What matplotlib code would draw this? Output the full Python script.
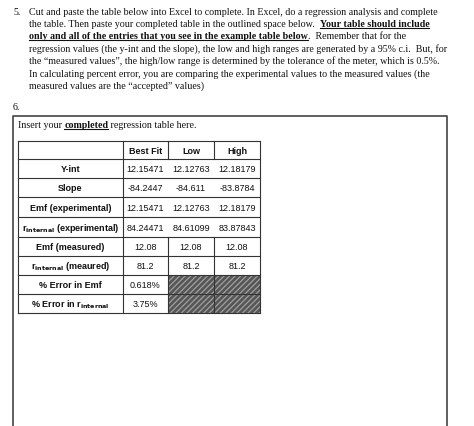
import matplotlib
matplotlib.use("Agg")
import matplotlib.pyplot as plt
from matplotlib.patches import Rectangle

# paragraph text, as (text, bold, underline) segments per line
para_lines = [
    [("Cut and paste the table below into Excel to complete. In Excel, do a regression analysis and complete", 0, 0)],
    [("the table. Then paste your completed table in the outlined space below.  ", 0, 0),
     ("Your table should include", 1, 1)],
    [("only and all of the entries that you see in the example table below", 1, 1),
     (".  Remember that for the", 0, 0)],
    [("regression values (the y-int and the slope), the low and high ranges are generated by a 95% c.i.  But, for", 0, 0)],
    [("the \u201cmeasured values\u201d, the high/low range is determined by the tolerance of the meter, which is 0.5%.", 0, 0)],
    [("In calculating percent error, you are comparing the experimental values to the measured values (the", 0, 0)],
    [("measured values are the \u201caccepted\u201d values)", 0, 0)],
]

header = ["", "Best Fit", "Low", "High"]
row_labels = ["Y-int", "Slope", "Emf (experimental)", r"r$_{\mathbf{internal}}$ (experimental)",
              "Emf (measured)", r"r$_{\mathbf{internal}}$ (meaured)", "% Error in Emf",
              r"% Error in r$_{\mathbf{internal}}$"]
best_fit = ["12.15471", "-84.2447", "12.15471", "84.24471", "12.08", "81.2", "0.618%", "3.75%"]
low = ["12.12763", "-84.611", "12.12763", "84.61099", "12.08", "81.2", None, None]
high = ["12.18179", "-83.8784", "12.18179", "83.87843", "12.08", "81.2", None, None]

W, H = 474, 427
fig = plt.figure(figsize=(W / 100, H / 100), dpi=100)
ax = fig.add_axes([0, 0, 1, 1])
ax.set_xlim(0, W)
ax.set_ylim(H, 0)
ax.axis("off")
fig.canvas.draw()
rend = fig.canvas.get_renderer()

serif = "Liberation Serif"
fs = 7.2
ink = "#111111"


def draw_segments(x, y, segs):
    for txt, bold, ul in segs:
        t = ax.text(x, y, txt, fontsize=fs, family=serif, fontweight="bold" if bold else "normal",
                    va="baseline", ha="left", color=ink)
        w = t.get_window_extent(renderer=rend).width  # pixels == data units here
        if ul:
            ax.plot([x, x + w], [y + 1.5, y + 1.5], color=ink, lw=0.8)
        x += w


line_y = [15, 27, 39, 52, 64, 77, 89]
ax.text(13, line_y[0], "5.", fontsize=fs, family=serif, va="baseline", color=ink)
for y, segs in zip(line_y, para_lines):
    draw_segments(29, y, segs)
ax.text(13, 110, "6.", fontsize=fs, family=serif, va="baseline", color=ink)

# outlined box
ax.plot([13, 13, 447, 447], [H, 117, 117, H], color="#444444", lw=1.2)
draw_segments(18, 128, [("Insert your ", 0, 0), ("completed", 1, 1), (" regression table here.", 0, 0)])

# table
cols = [18, 123, 168, 214, 260]
rows = [142, 160, 179, 198, 218, 238, 257, 276, 295, 314]
sans = "Liberation Sans"
tfs = 6.5
for i in range(len(rows) - 1):
    yc = (rows[i] + rows[i + 1]) / 2
    if i == 0:
        vals = header
    else:
        vals = [row_labels[i - 1], best_fit[i - 1], low[i - 1], high[i - 1]]
    for j in range(4):
        x0, x1 = cols[j], cols[j + 1]
        v = vals[j]
        if v is None:
            ax.add_patch(Rectangle((x0, rows[i]), x1 - x0, rows[i + 1] - rows[i],
                                   facecolor="#555555", edgecolor="#9a9a9a", hatch="//////", lw=0))
            continue
        bold = (j == 0) or (i == 0)
        ax.text((x0 + x1) / 2, yc + 0.5, v, fontsize=tfs, family=sans,
                fontweight="bold" if bold else "normal", ha="center", va="center", color=ink)

lc = "#333333"
for y in rows:
    ax.plot([cols[0], cols[-1]], [y, y], color=lc, lw=0.8)
for j, x in enumerate(cols):
    if j in (2, 3):
        ax.plot([x, x], [rows[0], rows[1]], color=lc, lw=0.8)
        ax.plot([x, x], [rows[5], rows[-1]], color=lc, lw=0.8)
    else:
        ax.plot([x, x], [rows[0], rows[-1]], color=lc, lw=0.8)

fig.savefig("out.png", dpi=100, facecolor="white")
